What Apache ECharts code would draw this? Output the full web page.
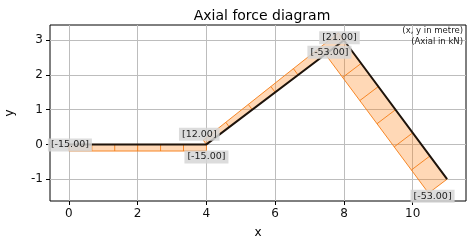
<!DOCTYPE html>
<html><head><meta charset="utf-8">
<script src="https://cdn.jsdelivr.net/npm/echarts@6/dist/echarts.min.js"></script>
<style>html,body{margin:0;padding:0;background:#fff}#c{width:474px;height:245px}</style>
</head><body><div id="c"></div>
<script>
// ---- data ----
const nodeX = [0, 4, 8, 11];
const nodeY = [0, 0, 3, -1];
const memberStart = [0, 1, 2];
const memberEnd = [1, 2, 3];
const axialStart = [-15, 12, -53];
const axialEnd = [-15, 21, -53];
const xTicks = [0, 2, 4, 6, 8, 10];
const yTicks = [-1, 0, 1, 2, 3];
const noteLines = ['(x, y in metre)', '(Axial in kN)'];

// ---- style parameters ----
const SCALE = 0.0127;      // diagram offset per kN (data units)
const HATCH = 6;           // divisions per member
const FONT = 'DejaVu Sans';
// pixel shifts for end labels [start, end] per member
const labelShift = [[[1, -6], [0, 6]], [[-4, -6], [1, 5]], [[4, -2], [4, 3]]];

const memberData = memberStart.map((s, i) => {
  const e = memberEnd[i];
  return [nodeX[s], nodeY[s], nodeX[e], nodeY[e], axialStart[i], axialEnd[i]];
});

function geom(d) {
  const [x1, y1, x2, y2, n1, n2] = d;
  const L = Math.hypot(x2 - x1, y2 - y1);
  const dx = (x2 - x1) / L, dy = (y2 - y1) / L;
  const px = -dy, py = dx; // left normal
  const pt = t => [x1 + (x2 - x1) * t, y1 + (y2 - y1) * t];
  const off = t => {
    const n = n1 + (n2 - n1) * t;
    const p = pt(t);
    return [p[0] + px * n * SCALE, p[1] + py * n * SCALE];
  };
  return { pt, off };
}

const chart = echarts.init(document.getElementById('c'), null, { renderer: 'canvas' });
chart.setOption({
  animation: false,
  title: {
    text: 'Axial force diagram', left: 257, top: 4, textAlign: 'center',
    textStyle: { fontFamily: FONT, fontSize: 14, fontWeight: 'normal', color: '#000' }
  },
  graphic: noteLines.map((t, i) => ({
    type: 'text', right: 11, top: 26 + i * 11, z: 100,
    style: { text: t, font: '8.5px ' + FONT, fill: '#222' }
  })),
  grid: { left: 50, right: 8, top: 25, bottom: 44, containLabel: false, outerBoundsMode: 'none',
          show: true, borderColor: '#000', borderWidth: 1, backgroundColor: 'transparent' },
  xAxis: {
    type: 'value', min: -0.55, max: 11.55,
    name: 'x', nameLocation: 'middle', nameGap: 26,
    nameTextStyle: { fontFamily: FONT, fontSize: 12, color: '#000' },
    axisLine: { show: false, onZero: false },
    axisTick: { show: true, inside: false, length: 4, customValues: xTicks, lineStyle: { color: '#000' } },
    axisLabel: { customValues: xTicks, fontFamily: FONT, fontSize: 12, color: '#111', margin: 7 },
    splitLine: { show: true, lineStyle: { color: '#bdbdbd', width: 1 } }
  },
  yAxis: {
    type: 'value', min: -1.63, max: 3.44,
    name: 'y', nameLocation: 'middle', nameGap: 34, nameRotate: 90,
    nameTextStyle: { fontFamily: FONT, fontSize: 12, color: '#000' },
    axisLine: { show: false, onZero: false },
    axisTick: { show: true, inside: false, length: 4, customValues: yTicks, lineStyle: { color: '#000' } },
    axisLabel: { customValues: yTicks, fontFamily: FONT, fontSize: 12, color: '#111', margin: 7 },
    splitLine: { show: true, lineStyle: { color: '#bdbdbd', width: 1 } }
  },
  series: [
    {
      type: 'custom', z: 2, clip: false,
      data: memberData,
      encode: { x: [0, 2], y: [1, 3] },
      renderItem: (params, api) => {
        const d = memberData[params.dataIndex];
        const g = geom(d);
        const poly = [g.pt(0), g.pt(1), g.off(1), g.off(0)].map(p => api.coord(p));
        const children = [{
          type: 'polygon', shape: { points: poly },
          style: { fill: 'rgba(255,127,14,0.3)', stroke: 'rgba(245,130,30,0.95)', lineWidth: 1 }
        }];
        for (let k = 1; k < HATCH; k++) {
          const t = k / HATCH;
          const a = api.coord(g.pt(t)), b = api.coord(g.off(t));
          children.push({
            type: 'line', shape: { x1: a[0], y1: a[1], x2: b[0], y2: b[1] },
            style: { stroke: 'rgba(245,130,30,0.95)', lineWidth: 1 }
          });
        }
        return { type: 'group', children };
      }
    },
    {
      type: 'line', z: 3, symbol: 'none', silent: true,
      data: nodeX.map((x, i) => [x, nodeY[i]]),
      lineStyle: { color: '#1e140c', width: 2 }
    },
    {
      type: 'custom', z: 5, clip: false,
      data: memberData,
      encode: { x: [0, 2], y: [1, 3] },
      renderItem: (params, api) => {
        const i = params.dataIndex;
        const d = memberData[i];
        const g = geom(d);
        const children = [0, 1].map(j => {
          const p = api.coord(g.off(j));
          const sh = labelShift[i][j];
          return {
            type: 'text', x: p[0] + sh[0], y: p[1] + sh[1],
            style: {
              text: '[' + d[4 + j].toFixed(2) + ']', font: '9.5px ' + FONT, fill: '#222',
              align: 'center', verticalAlign: 'middle',
              backgroundColor: 'rgba(214,214,214,0.85)', padding: [2, 3, 1, 3]
            }
          };
        });
        return { type: 'group', children };
      }
    }
  ]
});
</script>
</body></html>
